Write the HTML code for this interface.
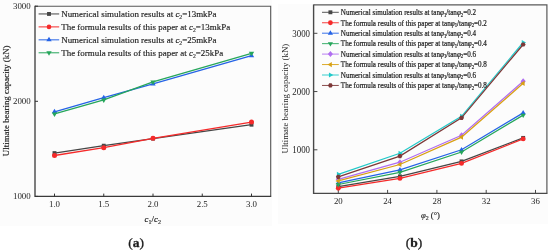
<!DOCTYPE html>
<html><head><meta charset="utf-8"><title>Figure</title>
<style>
html,body{margin:0;padding:0;background:#fff;}
body{width:550px;height:252px;overflow:hidden;}
svg{display:block;}
text{fill:#1c1c1c;stroke:#1c1c1c;stroke-width:0.15px;}
.tl{stroke:none;fill:#262626;}
.lab{stroke-width:0.3px;}
.rl{stroke-width:0.22px;}
</style></head>
<body>
<svg width="550" height="252" viewBox="0 0 550 252" font-family='"Liberation Serif", "Times New Roman", serif'>
<rect x="0" y="0" width="272" height="226" fill="#fcfcfc"/>
<rect x="278" y="4" width="270" height="220" fill="#fcfcfc"/>
<path d="M35.0,6.2 H270.7 V196.4" fill="none" stroke="#555" stroke-width="1.1"/>
<path d="M35.0,5.7 V196.4 H271.2" fill="none" stroke="#3a3a3a" stroke-width="1.3"/>
<line x1="35.0" x2="38.0" y1="196.40" y2="196.40" stroke="#333" stroke-width="1"/>
<line x1="35.0" x2="38.0" y1="101.30" y2="101.30" stroke="#333" stroke-width="1"/>
<line x1="35.0" x2="38.0" y1="6.20" y2="6.20" stroke="#333" stroke-width="1"/>
<line x1="54.50" x2="54.50" y1="196.4" y2="193.6" stroke="#333" stroke-width="1"/>
<line x1="103.75" x2="103.75" y1="196.4" y2="193.6" stroke="#333" stroke-width="1"/>
<line x1="153.00" x2="153.00" y1="196.4" y2="193.6" stroke="#333" stroke-width="1"/>
<line x1="202.25" x2="202.25" y1="196.4" y2="193.6" stroke="#333" stroke-width="1"/>
<line x1="251.50" x2="251.50" y1="196.4" y2="193.6" stroke="#333" stroke-width="1"/>
<text transform="translate(30.70,199.20) scale(1.000,1)" font-size="8.9" text-anchor="end" class="tl">1000</text>
<text transform="translate(30.70,104.10) scale(1.000,1)" font-size="8.9" text-anchor="end" class="tl">2000</text>
<text transform="translate(30.70,9.00) scale(1.000,1)" font-size="8.9" text-anchor="end" class="tl">3000</text>
<text transform="translate(54.50,207.30) scale(1.000,1)" font-size="8.9" text-anchor="middle" class="tl">1.0</text>
<text transform="translate(103.75,207.30) scale(1.000,1)" font-size="8.9" text-anchor="middle" class="tl">1.5</text>
<text transform="translate(153.00,207.30) scale(1.000,1)" font-size="8.9" text-anchor="middle" class="tl">2.0</text>
<text transform="translate(202.25,207.30) scale(1.000,1)" font-size="8.9" text-anchor="middle" class="tl">2.5</text>
<text transform="translate(251.50,207.30) scale(1.000,1)" font-size="8.9" text-anchor="middle" class="tl">3.0</text>
<text transform="translate(9.2,100.8) rotate(-90)" font-size="8.9" text-anchor="middle">Ultimate bearing capacity (kN)</text>
<text x="152.8" y="222.3" font-size="8.9" text-anchor="middle"><tspan font-style="italic">c</tspan><tspan font-size="6" dy="1.8">1</tspan><tspan dy="-1.8">/</tspan><tspan font-style="italic">c</tspan><tspan font-size="6" dy="1.8">2</tspan></text>
<polyline points="54.50,153.10 103.75,145.70 153.00,138.60 251.50,124.70" fill="none" stroke="#464646" stroke-width="1.35"/>
<rect x="52.55" y="151.15" width="3.90" height="3.90" fill="#464646"/>
<rect x="101.80" y="143.75" width="3.90" height="3.90" fill="#464646"/>
<rect x="151.05" y="136.65" width="3.90" height="3.90" fill="#464646"/>
<rect x="249.55" y="122.75" width="3.90" height="3.90" fill="#464646"/>
<polyline points="54.50,155.50 103.75,147.70 153.00,138.30 251.50,122.10" fill="none" stroke="#f52a2a" stroke-width="1.35"/>
<circle cx="54.50" cy="155.50" r="2.50" fill="#f52a2a"/>
<circle cx="103.75" cy="147.70" r="2.50" fill="#f52a2a"/>
<circle cx="153.00" cy="138.30" r="2.50" fill="#f52a2a"/>
<circle cx="251.50" cy="122.10" r="2.50" fill="#f52a2a"/>
<polyline points="54.50,111.80 103.75,97.70 153.00,83.90 251.50,55.70" fill="none" stroke="#2563e6" stroke-width="1.35"/>
<polygon points="54.50,108.80 57.20,113.30 51.80,113.30" fill="#2563e6"/>
<polygon points="103.75,94.70 106.45,99.20 101.05,99.20" fill="#2563e6"/>
<polygon points="153.00,80.90 155.70,85.40 150.30,85.40" fill="#2563e6"/>
<polygon points="251.50,52.70 254.20,57.20 248.80,57.20" fill="#2563e6"/>
<polyline points="54.50,113.90 103.75,99.90 153.00,81.90 251.50,53.30" fill="none" stroke="#26a65b" stroke-width="1.35"/>
<polygon points="54.50,116.90 57.20,112.40 51.80,112.40" fill="#26a65b"/>
<polygon points="103.75,102.90 106.45,98.40 101.05,98.40" fill="#26a65b"/>
<polygon points="153.00,84.90 155.70,80.40 150.30,80.40" fill="#26a65b"/>
<polygon points="251.50,56.30 254.20,51.80 248.80,51.80" fill="#26a65b"/>
<line x1="38.6" x2="59.2" y1="13.95" y2="13.95" stroke="#464646" stroke-width="1.0"/>
<rect x="47.05" y="12.00" width="3.90" height="3.90" fill="#464646"/>
<text transform="translate(61.20,16.95) scale(1.000,1)" font-size="8.95" text-anchor="start" >Numerical simulation results at <tspan font-style="italic">c</tspan><tspan font-size="5.6" dy="1.8">2</tspan><tspan dy="-1.8">=13mkPa</tspan></text>
<line x1="38.6" x2="59.2" y1="26.90" y2="26.90" stroke="#f52a2a" stroke-width="1.0"/>
<circle cx="49.00" cy="26.90" r="2.30" fill="#f52a2a"/>
<text transform="translate(61.20,29.90) scale(1.000,1)" font-size="8.95" text-anchor="start" >The formula results of this paper at <tspan font-style="italic">c</tspan><tspan font-size="5.6" dy="1.8">2</tspan><tspan dy="-1.8">=13mkPa</tspan></text>
<line x1="38.6" x2="59.2" y1="39.85" y2="39.85" stroke="#2563e6" stroke-width="1.0"/>
<polygon points="49.00,36.85 51.70,41.35 46.30,41.35" fill="#2563e6"/>
<text transform="translate(61.20,42.85) scale(1.000,1)" font-size="8.95" text-anchor="start" >Numerical simulation results at <tspan font-style="italic">c</tspan><tspan font-size="5.6" dy="1.8">2</tspan><tspan dy="-1.8">=25mkPa</tspan></text>
<line x1="38.6" x2="59.2" y1="52.80" y2="52.80" stroke="#26a65b" stroke-width="1.0"/>
<polygon points="49.00,55.80 51.70,51.30 46.30,51.30" fill="#26a65b"/>
<text transform="translate(61.20,55.80) scale(1.000,1)" font-size="8.95" text-anchor="start" >The formula results of this paper at <tspan font-style="italic">c</tspan><tspan font-size="5.6" dy="1.8">2</tspan><tspan dy="-1.8">=25kPa</tspan></text>
<text x="136" y="247.2" font-size="13.5" font-weight="bold" text-anchor="middle" class="lab"><tspan font-weight="normal">(</tspan>a<tspan font-weight="normal">)</tspan></text>
<path d="M313.6,4.9 H546.9 V193.4" fill="none" stroke="#5a5a5a" stroke-width="1.2"/>
<path d="M313.6,4.4 V193.4 H547.4" fill="none" stroke="#484848" stroke-width="1.4"/>
<line x1="313.6" x2="317.40000000000003" y1="149.80" y2="149.80" stroke="#484848" stroke-width="1"/>
<line x1="313.6" x2="317.40000000000003" y1="91.55" y2="91.55" stroke="#484848" stroke-width="1"/>
<line x1="313.6" x2="317.40000000000003" y1="33.30" y2="33.30" stroke="#484848" stroke-width="1"/>
<line x1="338.30" x2="338.30" y1="193.4" y2="189.9" stroke="#484848" stroke-width="1"/>
<line x1="387.60" x2="387.60" y1="193.4" y2="189.9" stroke="#484848" stroke-width="1"/>
<line x1="436.90" x2="436.90" y1="193.4" y2="189.9" stroke="#484848" stroke-width="1"/>
<line x1="486.20" x2="486.20" y1="193.4" y2="189.9" stroke="#484848" stroke-width="1"/>
<line x1="535.50" x2="535.50" y1="193.4" y2="189.9" stroke="#484848" stroke-width="1"/>
<text transform="translate(310.00,153.20) scale(0.870,1)" font-size="10.2" text-anchor="end" class="tl">1000</text>
<text transform="translate(310.00,94.95) scale(0.870,1)" font-size="10.2" text-anchor="end" class="tl">2000</text>
<text transform="translate(310.00,36.70) scale(0.870,1)" font-size="10.2" text-anchor="end" class="tl">3000</text>
<text transform="translate(338.30,204.20) scale(1.000,1)" font-size="8.8" text-anchor="middle" class="tl">20</text>
<text transform="translate(387.60,204.20) scale(1.000,1)" font-size="8.8" text-anchor="middle" class="tl">24</text>
<text transform="translate(436.90,204.20) scale(1.000,1)" font-size="8.8" text-anchor="middle" class="tl">28</text>
<text transform="translate(486.20,204.20) scale(1.000,1)" font-size="8.8" text-anchor="middle" class="tl">32</text>
<text transform="translate(535.50,204.20) scale(1.000,1)" font-size="8.8" text-anchor="middle" class="tl">36</text>
<text transform="translate(288.0,98.6) rotate(-90) scale(1,0.95)" font-size="8.8" text-anchor="middle" class="tl">Ultimate bearing capacity (kN)</text>
<text x="430.5" y="218.3" font-size="8.6" text-anchor="middle"><tspan font-style="italic">φ</tspan><tspan font-size="5.8" dy="1.8">2</tspan><tspan dy="-1.8"> (°)</tspan></text>
<polyline points="338.30,186.60 399.93,176.40 461.55,161.40 523.17,137.90" fill="none" stroke="#464646" stroke-width="1.25"/>
<rect x="336.35" y="184.65" width="3.90" height="3.90" fill="#464646"/>
<rect x="397.98" y="174.45" width="3.90" height="3.90" fill="#464646"/>
<rect x="459.60" y="159.45" width="3.90" height="3.90" fill="#464646"/>
<rect x="521.22" y="135.95" width="3.90" height="3.90" fill="#464646"/>
<polyline points="338.30,188.20 399.93,178.40 461.55,163.40 523.17,138.90" fill="none" stroke="#f52a2a" stroke-width="1.25"/>
<circle cx="338.30" cy="188.20" r="2.45" fill="#f52a2a"/>
<circle cx="399.93" cy="178.40" r="2.45" fill="#f52a2a"/>
<circle cx="461.55" cy="163.40" r="2.45" fill="#f52a2a"/>
<circle cx="523.17" cy="138.90" r="2.45" fill="#f52a2a"/>
<polyline points="338.30,182.90 399.93,169.90 461.55,149.80 523.17,112.90" fill="none" stroke="#2563e6" stroke-width="1.25"/>
<polygon points="338.30,180.02 340.89,184.34 335.71,184.34" fill="#2563e6"/>
<polygon points="399.93,167.02 402.52,171.34 397.33,171.34" fill="#2563e6"/>
<polygon points="461.55,146.92 464.14,151.24 458.96,151.24" fill="#2563e6"/>
<polygon points="523.17,110.02 525.77,114.34 520.58,114.34" fill="#2563e6"/>
<polyline points="338.30,184.50 399.93,172.30 461.55,152.00 523.17,115.10" fill="none" stroke="#26a65b" stroke-width="1.25"/>
<polygon points="338.30,187.38 340.89,183.06 335.71,183.06" fill="#26a65b"/>
<polygon points="399.93,175.18 402.52,170.86 397.33,170.86" fill="#26a65b"/>
<polygon points="461.55,154.88 464.14,150.56 458.96,150.56" fill="#26a65b"/>
<polygon points="523.17,117.98 525.77,113.66 520.58,113.66" fill="#26a65b"/>
<polyline points="338.30,179.30 399.93,162.20 461.55,135.20 523.17,81.30" fill="none" stroke="#b06ef0" stroke-width="1.25"/>
<polygon points="338.30,176.24 340.87,179.30 338.30,182.36 335.73,179.30" fill="#b06ef0"/>
<polygon points="399.93,159.14 402.50,162.20 399.93,165.26 397.35,162.20" fill="#b06ef0"/>
<polygon points="461.55,132.14 464.12,135.20 461.55,138.26 458.98,135.20" fill="#b06ef0"/>
<polygon points="523.17,78.24 525.75,81.30 523.17,84.36 520.60,81.30" fill="#b06ef0"/>
<polyline points="338.30,180.90 399.93,164.50 461.55,137.10 523.17,83.30" fill="none" stroke="#d8a013" stroke-width="1.25"/>
<polygon points="335.42,180.90 339.74,178.31 339.74,183.49" fill="#d8a013"/>
<polygon points="397.05,164.50 401.37,161.91 401.37,167.09" fill="#d8a013"/>
<polygon points="458.67,137.10 462.99,134.51 462.99,139.69" fill="#d8a013"/>
<polygon points="520.29,83.30 524.62,80.71 524.62,85.89" fill="#d8a013"/>
<polyline points="338.30,174.30 399.93,153.30 461.55,116.30 523.17,42.50" fill="none" stroke="#22c9c9" stroke-width="1.25"/>
<polygon points="341.18,174.30 336.86,171.71 336.86,176.89" fill="#22c9c9"/>
<polygon points="402.81,153.30 398.49,150.71 398.49,155.89" fill="#22c9c9"/>
<polygon points="464.43,116.30 460.11,113.71 460.11,118.89" fill="#22c9c9"/>
<polygon points="526.05,42.50 521.73,39.91 521.73,45.09" fill="#22c9c9"/>
<polyline points="338.30,176.80 399.93,156.10 461.55,117.80 523.17,44.50" fill="none" stroke="#7d3838" stroke-width="1.25"/>
<polygon points="340.75,176.80 339.53,178.92 337.07,178.92 335.85,176.80 337.07,174.68 339.53,174.68" fill="#7d3838"/>
<polygon points="402.38,156.10 401.15,158.22 398.70,158.22 397.48,156.10 398.70,153.98 401.15,153.98" fill="#7d3838"/>
<polygon points="464.00,117.80 462.78,119.92 460.32,119.92 459.10,117.80 460.32,115.68 462.78,115.68" fill="#7d3838"/>
<polygon points="525.62,44.50 524.40,46.62 521.95,46.62 520.72,44.50 521.95,42.38 524.40,42.38" fill="#7d3838"/>
<line x1="322" x2="338.8" y1="12.30" y2="12.30" stroke="#464646" stroke-width="0.9"/>
<rect x="328.45" y="10.35" width="3.90" height="3.90" fill="#464646"/>
<text transform="translate(340.80,15.05) scale(0.865,1)" font-size="8.2" text-anchor="start" class="rl">Numerical simulation results at tan<tspan font-style="italic">φ</tspan><tspan font-size="5.5" dy="1.6">1</tspan><tspan dy="-1.6">/tan</tspan><tspan font-style="italic">φ</tspan><tspan font-size="5.5" dy="1.6">2</tspan><tspan dy="-1.6">=0.2</tspan></text>
<line x1="322" x2="338.8" y1="22.75" y2="22.75" stroke="#f52a2a" stroke-width="0.9"/>
<circle cx="330.40" cy="22.75" r="2.40" fill="#f52a2a"/>
<text transform="translate(340.80,25.50) scale(0.865,1)" font-size="8.2" text-anchor="start" class="rl">The formula results of this paper at tan<tspan font-style="italic">φ</tspan><tspan font-size="5.5" dy="1.6">1</tspan><tspan dy="-1.6">/tan</tspan><tspan font-style="italic">φ</tspan><tspan font-size="5.5" dy="1.6">2</tspan><tspan dy="-1.6">=0.2</tspan></text>
<line x1="322" x2="338.8" y1="33.20" y2="33.20" stroke="#2563e6" stroke-width="0.9"/>
<polygon points="330.40,30.32 332.99,34.64 327.81,34.64" fill="#2563e6"/>
<text transform="translate(340.80,35.95) scale(0.865,1)" font-size="8.2" text-anchor="start" class="rl">Numerical simulation results at tan<tspan font-style="italic">φ</tspan><tspan font-size="5.5" dy="1.6">1</tspan><tspan dy="-1.6">/tan</tspan><tspan font-style="italic">φ</tspan><tspan font-size="5.5" dy="1.6">2</tspan><tspan dy="-1.6">=0.4</tspan></text>
<line x1="322" x2="338.8" y1="43.65" y2="43.65" stroke="#26a65b" stroke-width="0.9"/>
<polygon points="330.40,46.53 332.99,42.21 327.81,42.21" fill="#26a65b"/>
<text transform="translate(340.80,46.40) scale(0.865,1)" font-size="8.2" text-anchor="start" class="rl">The formula results of this paper at tan<tspan font-style="italic">φ</tspan><tspan font-size="5.5" dy="1.6">1</tspan><tspan dy="-1.6">/tan</tspan><tspan font-style="italic">φ</tspan><tspan font-size="5.5" dy="1.6">2</tspan><tspan dy="-1.6">=0.4</tspan></text>
<line x1="322" x2="338.8" y1="54.10" y2="54.10" stroke="#b06ef0" stroke-width="0.9"/>
<polygon points="330.40,51.10 332.92,54.10 330.40,57.10 327.88,54.10" fill="#b06ef0"/>
<text transform="translate(340.80,56.85) scale(0.865,1)" font-size="8.2" text-anchor="start" class="rl">Numerical simulation results at tan<tspan font-style="italic">φ</tspan><tspan font-size="5.5" dy="1.6">1</tspan><tspan dy="-1.6">/tan</tspan><tspan font-style="italic">φ</tspan><tspan font-size="5.5" dy="1.6">2</tspan><tspan dy="-1.6">=0.6</tspan></text>
<line x1="322" x2="338.8" y1="64.55" y2="64.55" stroke="#d8a013" stroke-width="0.9"/>
<polygon points="327.52,64.55 331.84,61.96 331.84,67.14" fill="#d8a013"/>
<text transform="translate(340.80,67.30) scale(0.865,1)" font-size="8.2" text-anchor="start" class="rl">The formula results of this paper at tan<tspan font-style="italic">φ</tspan><tspan font-size="5.5" dy="1.6">1</tspan><tspan dy="-1.6">/tan</tspan><tspan font-style="italic">φ</tspan><tspan font-size="5.5" dy="1.6">2</tspan><tspan dy="-1.6">=0.8</tspan></text>
<line x1="322" x2="338.8" y1="75.00" y2="75.00" stroke="#22c9c9" stroke-width="0.9"/>
<polygon points="333.28,75.00 328.96,72.41 328.96,77.59" fill="#22c9c9"/>
<text transform="translate(340.80,77.75) scale(0.865,1)" font-size="8.2" text-anchor="start" class="rl">Numerical simulation results at tan<tspan font-style="italic">φ</tspan><tspan font-size="5.5" dy="1.6">1</tspan><tspan dy="-1.6">/tan</tspan><tspan font-style="italic">φ</tspan><tspan font-size="5.5" dy="1.6">2</tspan><tspan dy="-1.6">=0.6</tspan></text>
<line x1="322" x2="338.8" y1="85.45" y2="85.45" stroke="#7d3838" stroke-width="0.9"/>
<polygon points="332.80,85.45 331.60,87.53 329.20,87.53 328.00,85.45 329.20,83.37 331.60,83.37" fill="#7d3838"/>
<text transform="translate(340.80,88.20) scale(0.865,1)" font-size="8.2" text-anchor="start" class="rl">The formula results of this paper at tan<tspan font-style="italic">φ</tspan><tspan font-size="5.5" dy="1.6">1</tspan><tspan dy="-1.6">/tan</tspan><tspan font-style="italic">φ</tspan><tspan font-size="5.5" dy="1.6">2</tspan><tspan dy="-1.6">=0.8</tspan></text>
<text x="414" y="246.8" font-size="13.5" font-weight="bold" text-anchor="middle" class="lab"><tspan font-weight="normal">(</tspan>b<tspan font-weight="normal">)</tspan></text>
</svg>
</body></html>
